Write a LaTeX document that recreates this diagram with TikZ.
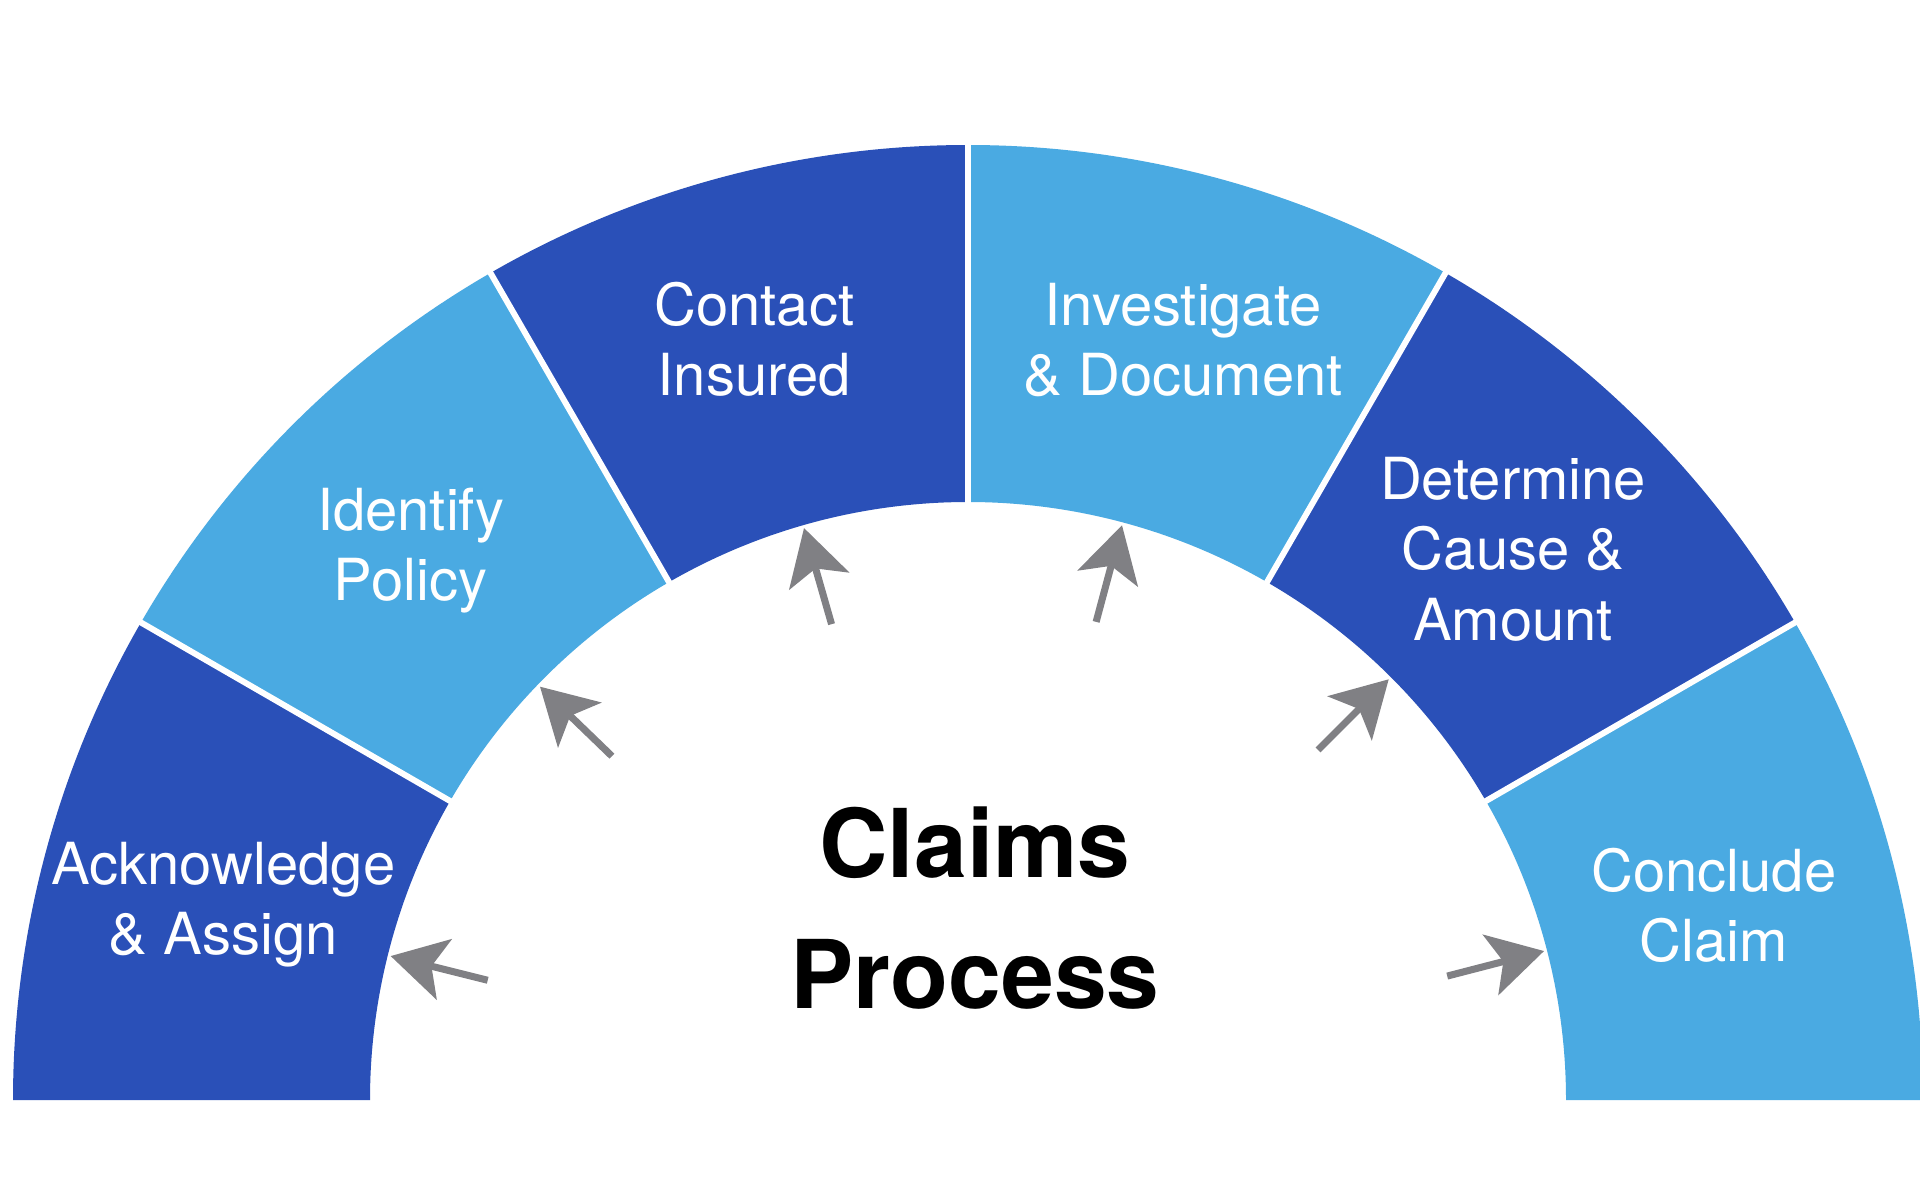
\documentclass[tikz,border=0pt]{standalone}
\usepackage{fontspec}
\setmainfont{TeX Gyre Heros}
\usetikzlibrary{arrows.meta, calc}
\definecolor{claimdark}{RGB}{42,80,184}
\definecolor{claimlight}{RGB}{74,170,226}
\definecolor{arrowgray}{RGB}{128,128,132}

\begin{document}
\begin{tikzpicture}[
    stage/.style={align=center, text=white, font=\fontsize{16.5}{20}\selectfont},
    title/.style={align=center, text=black, font=\fontsize{27}{37.5}\selectfont\bfseries},
    arrow/.style={-{Stealth[length=5.5mm, width=6.2mm, inset=1.3mm]}, line width=2pt, color=arrowgray}
]
\useasboundingbox (0,0) rectangle (19.2,12);
\fill[white] (0,0) rectangle (19.2,12);
\coordinate (o) at (9.68,1.00);
\foreach \a/\c [evaluate=\a as \b using \a+30] in {150/claimdark, 120/claimlight, 90/claimdark, 60/claimlight, 30/claimdark, 0/claimlight}
  \fill[\c] ($(o)+(\a:9.55)$) arc[start angle=\a, end angle=\b, radius=9.55] -- ($(o)+(\b:5.98)$) arc[start angle=\b, end angle=\a, radius=5.98] -- cycle;
\foreach \a in {30,60,...,150}
  \draw[white, line width=1.7pt] ($(o)+(\a:5.9)$) -- ($(o)+(\a:9.65)$);
\node[stage] (acknowledge) at ($(o)+(165.3:7.7)$) {Acknowledge\\\& Assign};
\node[stage] (identify) at ($(o)+(135.4:7.83)$) {Identify\\Policy};
\node[stage] (contact) at ($(o)+(105.7:7.9)$) {Contact\\Insured};
\node[stage] (investigate) at ($(o)+(74.2:7.9)$) {Investigate\\\& Document};
\node[stage] (determine) at ($(o)+(45.3:7.75)$) {Determine\\Cause \&\\Amount};
\node[stage] (conclude) at ($(o)+(14.65:7.71)$) {Conclude\\Claim};
\node[title] (title) at (9.75,2.92) {Claims\\Process};
\foreach \a [count=\i] in {166,136,106,75,45,14.5} {
  \coordinate (tail\i) at ($(o)+(\a:4.95)$);
  \coordinate (tip\i) at ($(o)+(\a:5.95)$);
  \draw[arrow] (tail\i) -- (tip\i);
}
\end{tikzpicture}
\end{document}
